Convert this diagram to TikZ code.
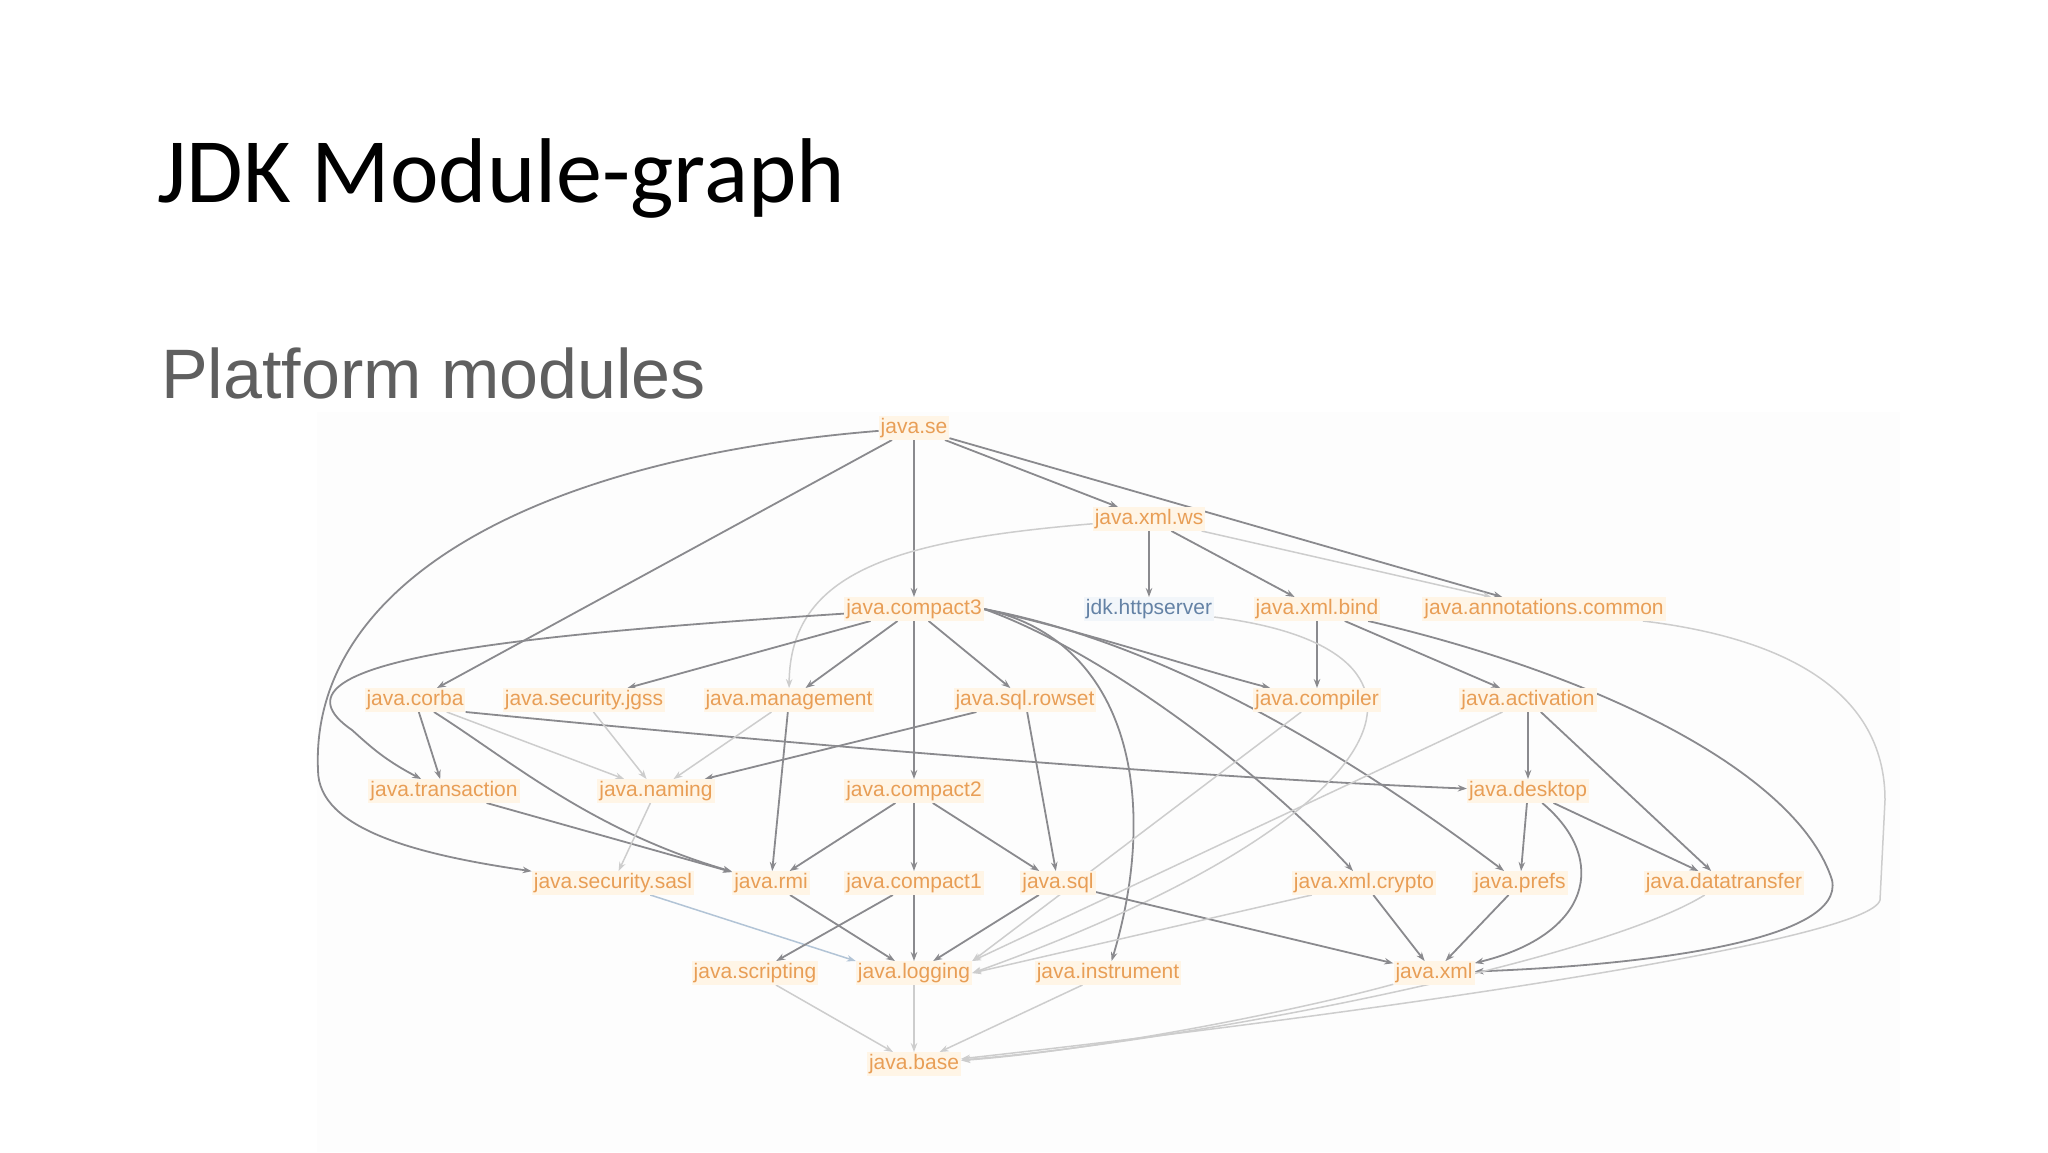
\documentclass[tikz,border=0pt]{standalone}
\usepackage{fontspec}
\setmainfont{Carlito}
\newfontfamily\graphfont{Liberation Sans}
\usetikzlibrary{arrows.meta}
\definecolor{modorange}{RGB}{232,158,86}
\definecolor{modbg}{RGB}{255,245,230}
\definecolor{jdkblue}{RGB}{100,130,165}
\definecolor{jdkbg}{RGB}{242,246,250}
\definecolor{edark}{RGB}{138,138,142}
\definecolor{elight}{RGB}{205,205,205}
\definecolor{eblue}{RGB}{178,196,214}
\definecolor{pmgray}{RGB}{95,95,95}
\definecolor{imgbg}{RGB}{253,253,253}
\pgfdeclarelayer{bglayer}
\pgfdeclarelayer{edgelayer}
\pgfsetlayers{bglayer,edgelayer,main}
\begin{document}
\begin{tikzpicture}[x=1pt,y=-1pt,
  mod/.style={text=modorange, fill=modbg, inner sep=2pt, font=\graphfont\fontsize{21}{24}\selectfont},
  jdkmod/.style={mod, text=jdkblue, fill=jdkbg},
  dk/.style={draw=edark, line width=1.8pt, -{Stealth[length=9pt,width=6.5pt]}},
  lt/.style={draw=elight, line width=1.5pt, -{Stealth[length=9pt,width=6.5pt]}},
  ltb/.style={draw=eblue, line width=1.5pt, -{Stealth[length=9pt,width=6.5pt]}},
]
\useasboundingbox (0,0) rectangle (2048,1152);
\begin{pgfonlayer}{bglayer}
\fill[white] (0,0) rectangle (2048,1152);
\fill[imgbg] (317,412) rectangle (1900,1152);
\end{pgfonlayer}

\node[anchor=base west, inner sep=0pt, font=\fontsize{92}{110}\selectfont] (title) at (157,202) {JDK Module-graph};
\node[anchor=base west, inner sep=0pt, text=pmgray, font=\graphfont\fontsize{70}{80}\selectfont] (pm) at (161,398) {Platform modules};

% modules
\node[mod] (se) at (914,428) {java.se};
\node[mod] (xmlws) at (1149,519) {java.xml.ws};
\node[mod] (c3) at (914,609) {java.compact3};
\node[jdkmod] (http) at (1149,609) {jdk.httpserver};
\node[mod] (bind) at (1317,609) {java.xml.bind};
\node[mod] (ann) at (1544,609) {java.annotations.common};
\node[mod] (corba) at (415,700) {java.corba};
\node[mod] (jgss) at (584,700) {java.security.jgss};
\node[mod] (mgmt) at (789,700) {java.management};
\node[mod] (rowset) at (1025,700) {java.sql.rowset};
\node[mod] (compiler) at (1317,700) {java.compiler};
\node[mod] (act) at (1528,700) {java.activation};
\node[mod] (trans) at (444,791) {java.transaction};
\node[mod] (naming) at (656,791) {java.naming};
\node[mod] (c2) at (914,791) {java.compact2};
\node[mod] (desk) at (1528,791) {java.desktop};
\node[mod] (sasl) at (613,883) {java.security.sasl};
\node[mod] (rmi) at (771,883) {java.rmi};
\node[mod] (c1) at (914,883) {java.compact1};
\node[mod] (sql) at (1058,883) {java.sql};
\node[mod] (crypto) at (1364,883) {java.xml.crypto};
\node[mod] (prefs) at (1520,883) {java.prefs};
\node[mod] (dt) at (1724,883) {java.datatransfer};
\node[mod] (scr) at (755,973) {java.scripting};
\node[mod] (log) at (914,973) {java.logging};
\node[mod] (instr) at (1108,973) {java.instrument};
\node[mod] (xml) at (1434,973) {java.xml};
\node[mod] (base) at (914,1064) {java.base};

\begin{pgfonlayer}{edgelayer}
% java.se
\draw[dk] (se) -- (c3);
\draw[dk] (se) -- (xmlws);
\draw[dk] (se) -- (ann);
\draw[dk] (se) -- (corba);
\draw[dk] (se) .. controls (520,460) and (310,590) .. (318,770) .. controls (318,830) and (420,855) .. (sasl);
% java.xml.ws
\draw[dk] (xmlws) -- (http);
\draw[dk] (xmlws) -- (bind);
\draw[lt] (xmlws) -- (ann);
\draw[lt] (xmlws) .. controls (900,540) and (790,570) .. (mgmt);
% java.compact3
\draw[dk] (c3) -- (jgss);
\draw[dk] (c3) -- (mgmt);
\draw[dk] (c3) -- (rowset);
\draw[dk] (c3) -- (c2);
\draw[dk] (c3) .. controls (520,635) and (250,660) .. (352,730) .. controls (372,748) and (385,760) .. (trans);
\draw[dk] (c3.east) .. controls (1080,630) and (1200,670) .. (compiler);
\draw[dk] (c3.east) .. controls (1100,650) and (1260,770) .. (crypto);
\draw[dk] (c3.east) .. controls (1150,640) and (1330,740) .. (prefs);
\draw[dk] (c3.east) .. controls (1130,640) and (1160,800) .. (instr);
% row 2
\draw[dk] (corba) -- (trans);
\draw[lt] (corba) -- (naming);
\draw[dk] (corba) .. controls (510,760) and (590,830) .. (rmi);
\draw[dk] (corba.south east) .. controls (800,745) and (1200,778) .. (desk);
\draw[lt] (jgss) -- (naming);
\draw[lt] (mgmt) -- (naming);
\draw[dk] (mgmt) -- (rmi);
\draw[dk] (rowset) -- (naming);
\draw[dk] (rowset) -- (sql);
\draw[lt] (compiler) -- (log.north east);
\draw[dk] (bind) -- (compiler);
\draw[dk] (bind) -- (act);
\draw[dk] (bind) .. controls (1620,680) and (1800,780) .. (1832,880) .. controls (1845,940) and (1650,965) .. (xml);
\draw[lt] (http) .. controls (1480,650) and (1400,820) .. (log.east);
\draw[lt] (ann) .. controls (1800,640) and (1885,700) .. (1885,800) -- (1880,900) .. controls (1870,940) and (1400,1010) .. (base);
\draw[dk] (act) -- (desk);
\draw[dk] (act) -- (dt);
\draw[lt] (act) -- (log.north east);
% row 3
\draw[dk] (trans) -- (rmi);
\draw[lt] (naming) -- (sasl);
\draw[dk] (c2) -- (rmi);
\draw[dk] (c2) -- (c1);
\draw[dk] (c2) -- (sql);
\draw[dk] (desk) -- (prefs);
\draw[dk] (desk) -- (dt);
\draw[dk] (desk) .. controls (1610,860) and (1590,935) .. (xml);
% row 4
\draw[ltb] (sasl) -- (log.north west);
\draw[dk] (rmi) -- (log);
\draw[dk] (c1) -- (log);
\draw[dk] (c1) -- (scr);
\draw[dk] (sql) -- (log);
\draw[dk] (sql) -- (xml);
\draw[lt] (crypto) -- (log.east);
\draw[dk] (crypto) -- (xml);
\draw[dk] (prefs) -- (xml);
\draw[lt] (dt) .. controls (1600,960) and (1200,1040) .. (base);
% row 5
\draw[lt] (scr) -- (base);
\draw[lt] (log) -- (base);
\draw[lt] (instr) -- (base);
\draw[lt] (xml) .. controls (1300,1010) and (1100,1050) .. (base);
\end{pgfonlayer}
\end{tikzpicture}
\end{document}
